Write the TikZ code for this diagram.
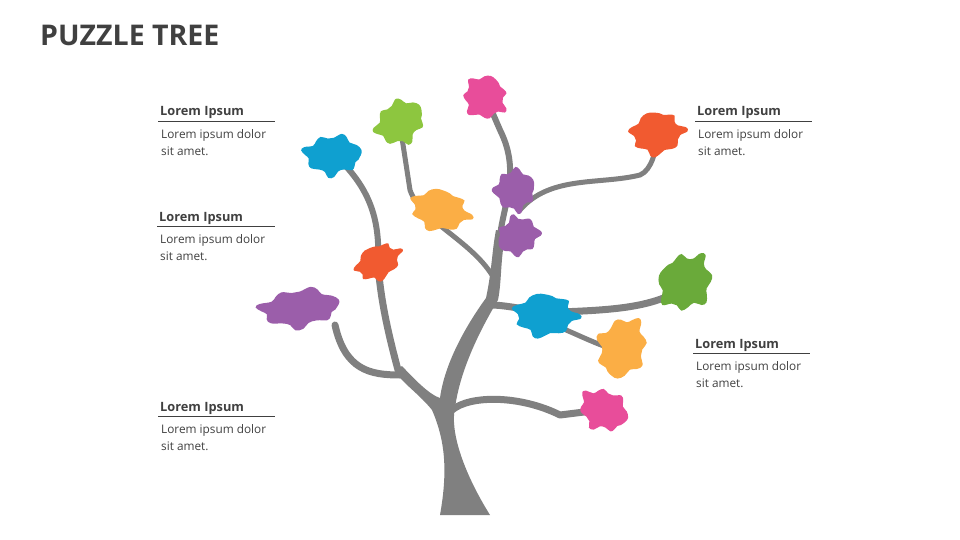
\documentclass[tikz,border=0pt]{standalone}
\usepackage{fontspec}
\setmainfont{Open Sans}
\definecolor{trk}{HTML}{808080}
\definecolor{cblue}{HTML}{0FA0D0}
\definecolor{cgreen}{HTML}{8DC63F}
\definecolor{cgreen2}{HTML}{6AAA3A}
\definecolor{cpink}{HTML}{E84D9A}
\definecolor{cred}{HTML}{F15A30}
\definecolor{corange}{HTML}{FBAE45}
\definecolor{cpurple}{HTML}{9B5EAA}
\definecolor{ttl}{HTML}{404040}
\definecolor{txt}{HTML}{404040}
\newcommand\pz[6]{\fill[#3,shift={(#1,#2)},rotate=#6,xscale=#4/2,yscale=#5/2]
 plot[smooth cycle,tension=0.7] coordinates{(0:0.9)(15:0.85)(25:0.8)(38:0.88)(50:0.95)(62:0.78)(78:0.8)(88:1.05)(98:1.1)(108:0.85)(122:0.82)(138:0.95)(152:0.9)(168:0.8)(180:0.9)(192:1.05)(202:1.0)(214:0.78)(230:0.85)(245:0.95)(258:0.8)(272:0.82)(286:1.05)(298:0.95)(312:0.8)(328:0.9)(345:0.95)};}
\tikzset{br/.style={draw=trk,line cap=round,line join=round},
 hd/.style={anchor=base west,font=\bfseries\fontsize{12.8}{15}\selectfont,text=txt,inner sep=0},
 bd/.style={anchor=north west,font=\fontsize{11.8}{17}\selectfont,text=txt,inner sep=0,align=left}}
\begin{document}
\begin{tikzpicture}[x=1pt,y=-1pt]
\useasboundingbox (0,0) rectangle (960,540);
\node[anchor=base west,inner sep=0,font=\bfseries\fontsize{28.5}{32}\selectfont,text=ttl] (title) at (40,46) {PUZZLE TREE};
% text blocks
\foreach \n/\x/\y/\w in {a/160/116/275,b/159/221/275,c/160/411/275,d/697/116/812,e/695/348/810}{
 \node[hd] (h\n) at (\x,\y) {Lorem Ipsum};
 \draw[txt,line width=0.8] (\x-2,\y+5) -- (\w,\y+5);
 \node[bd] (t\n) at (\x+1,\y+13) {Lorem ipsum dolor\\sit amet.};
}
% trunk
\fill[trk] (440,515) .. controls (448,470) and (445,440) .. (432,410)
 .. controls (420,395) and (405,385) .. (395,372)
 -- (402,366) .. controls (415,380) and (430,395) .. (440,398)
 .. controls (445,360) and (470,320) .. (486,298)
 .. controls (492,270) and (492,250) .. (496,230) -- (506,232)
 .. controls (500,260) and (502,280) .. (498,300)
 .. controls (480,330) and (460,370) .. (455,408)
 .. controls (450,430) and (462,470) .. (490,515) -- cycle;
\draw[br,line width=7] (398,370) .. controls (390,340) and (380,300) .. (378,262);
\draw[br,line width=6] (378,262) .. controls (380,220) and (370,190) .. (340,160);
\draw[br,line width=7] (400,375) .. controls (370,375) and (345,370) .. (335,325);
\draw[br,line width=6] (500,235) .. controls (505,200) and (520,170) .. (500,130) -- (487,100);
\draw[br,line width=5] (520,210) .. controls (550,175) and (600,185) .. (640,175) .. controls (652,170) and (656,150) .. (658,135);
\draw[br,line width=5] (492,275) .. controls (470,240) and (420,220) .. (410,190) -- (400,125);
\draw[br,line width=7] (490,305) .. controls (510,305) and (530,312) .. (560,312) .. controls (610,310) and (650,308) .. (680,290);
\draw[br,line width=5] (540,320) .. controls (570,330) and (585,340) .. (615,350);
\draw[br,line width=7] (452,410) .. controls (470,395) and (520,395) .. (560,415) -- (600,410);
% pieces
\pz{333}{155}{cblue}{62}{42}{0}
\pz{400}{122}{cgreen}{55}{44}{30}
\pz{485}{97}{cpink}{46}{46}{60}
\pz{657}{133}{cred}{46}{56}{100}
\pz{440}{210}{corange}{44}{62}{80}
\pz{515}{190}{cpurple}{44}{44}{15}
\pz{518}{236}{cpurple}{46}{40}{200}
\pz{378}{262}{cred}{36}{50}{120}
\pz{300}{308}{cpurple}{86}{40}{5}
\pz{545}{315}{cblue}{46}{66}{90}
\pz{685}{282}{cgreen2}{56}{62}{150}
\pz{622}{348}{corange}{66}{50}{250}
\pz{604}{410}{cpink}{54}{42}{330}
\end{tikzpicture}
\end{document}
